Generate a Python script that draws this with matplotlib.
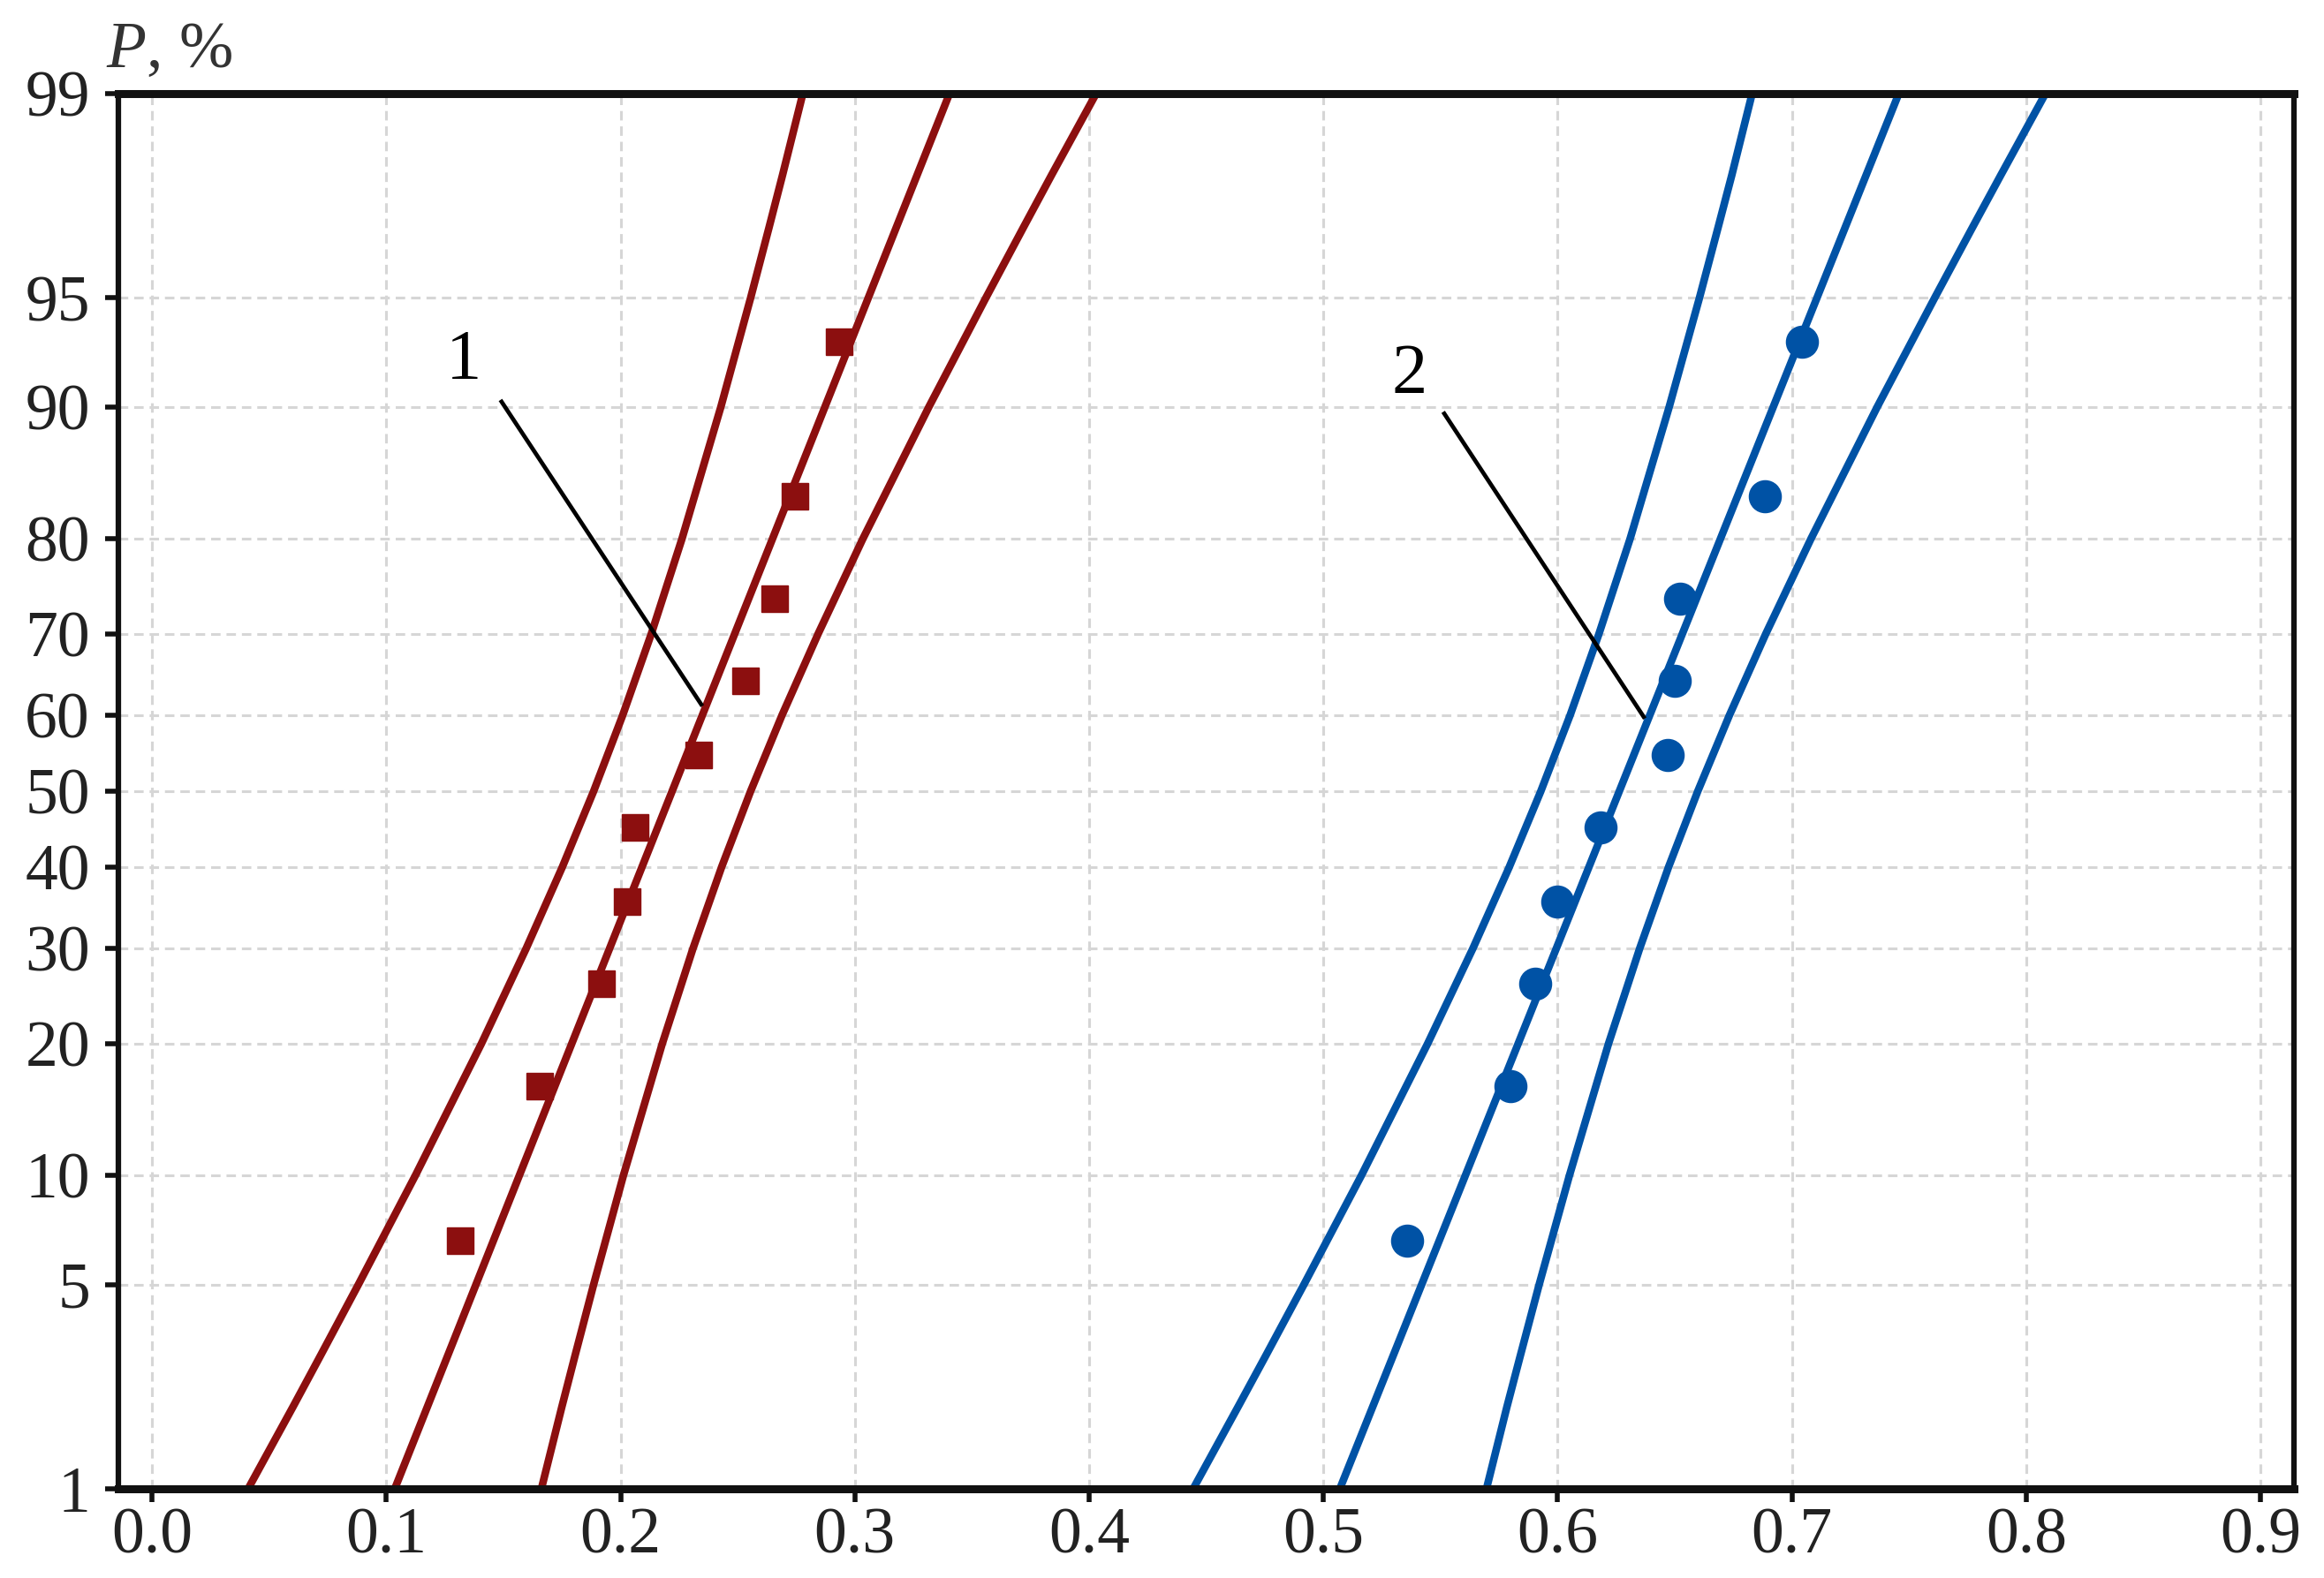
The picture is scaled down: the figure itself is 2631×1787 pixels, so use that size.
from statistics import NormalDist

import numpy as np
import matplotlib
matplotlib.use("Agg")
import matplotlib.pyplot as plt

plt.rcParams["font.family"] = ["Liberation Serif", "DejaVu Serif"]
plt.rcParams["mathtext.fontset"] = "custom"
plt.rcParams["mathtext.rm"] = "Liberation Serif"
plt.rcParams["mathtext.it"] = "Liberation Serif:italic"

levels = [1, 2, 3, 5, 10, 20, 30, 40, 50, 60, 70, 80, 90, 95, 97, 98, 99]

# plotting positions of the 10 measured points (%)
point_p = [6.7, 16.3, 26.0, 35.6, 45.2, 54.8, 64.4, 74.0, 83.7, 93.3]

# series 1 (red squares)
red_x = [0.1315, 0.1654, 0.1918, 0.2027, 0.2061, 0.2332, 0.2532, 0.2657, 0.2744, 0.2932]
red_fit_p = [1, 99]
red_fit_x = [0.1036, 0.3404]
red_low = [0.0410, 0.0601, 0.0720, 0.0881, 0.1124, 0.1406, 0.1597, 0.1751, 0.1885,
           0.2009, 0.2131, 0.2262, 0.2428, 0.2555, 0.2634, 0.2691, 0.2778]
red_high = [0.1662, 0.1749, 0.1806, 0.1885, 0.2012, 0.2178, 0.2309, 0.2431, 0.2555,
            0.2689, 0.2843, 0.3034, 0.3316, 0.3559, 0.3720, 0.3839, 0.4030]

# series 2 (blue circles)
blue_x = [0.5357, 0.5798, 0.5904, 0.5998, 0.6183, 0.6469, 0.6499, 0.6522, 0.6884, 0.7042]
blue_fit_p = [1, 99]
blue_fit_x = [0.5070, 0.7456]
blue_low = [0.4444, 0.4635, 0.4755, 0.4917, 0.5162, 0.5445, 0.5638, 0.5793, 0.5928,
            0.6053, 0.6176, 0.6309, 0.6476, 0.6605, 0.6685, 0.6743, 0.6830]
blue_high = [0.5696, 0.5783, 0.5841, 0.5921, 0.6050, 0.6217, 0.6350, 0.6473, 0.6598,
             0.6733, 0.6888, 0.7081, 0.7364, 0.7609, 0.7771, 0.7891, 0.8082]

x_ticks = [0.0, 0.1, 0.2, 0.3, 0.4, 0.5, 0.6, 0.7, 0.8, 0.9]
y_ticks = [1, 5, 10, 20, 30, 40, 50, 60, 70, 80, 90, 95, 99]

RED = "#8c0f0f"
BLUE = "#0052a5"

_normal = NormalDist()


def to_probit(p):
    p = np.clip(np.asarray(p, dtype=float), 1e-9, 100 - 1e-9)
    return np.vectorize(lambda v: _normal.inv_cdf(v / 100.0), otypes=[float])(p)


def from_probit(z):
    z = np.asarray(z, dtype=float)
    return np.vectorize(lambda v: 100.0 * _normal.cdf(v), otypes=[float])(z)


fig = plt.figure(figsize=(26.31, 17.87), dpi=100)
ax = fig.add_axes([0.0509, 0.0565, 0.9362, 0.8842])
ax.set_yscale("function", functions=(to_probit, from_probit))
ax.set_xlim(-0.0144, 0.9143)
ax.set_ylim(1, 99)

ax.set_xticks(x_ticks)
ax.set_xticklabels([f"{v:.1f}" for v in x_ticks])
ax.set_yticks(y_ticks)
ax.set_yticklabels([str(v) for v in y_ticks])
ax.minorticks_off()
ax.tick_params(axis="both", direction="out", length=11, width=4, labelsize=53,
               labelcolor="#222222", color="#111111")
ax.tick_params(axis="x", pad=4)
ax.tick_params(axis="y", pad=12)

ax.grid(True, color="#d6d6d6", linewidth=2.2, linestyle=(0, (3.5, 2.2)))
ax.set_axisbelow(True)

for side in ["top", "bottom"]:
    ax.spines[side].set_linewidth(6.5)
for side in ["left", "right"]:
    ax.spines[side].set_linewidth(4.5)
for spine in ax.spines.values():
    spine.set_color("#111111")
    spine.set_zorder(5)

line_width = 6.2

for xs in (red_low, red_high):
    ax.plot(xs, levels, color=RED, linewidth=line_width, solid_joinstyle="round")
ax.plot(red_fit_x, red_fit_p, color=RED, linewidth=line_width)
ax.plot(red_x, point_p, linestyle="none", marker="s", markersize=21, color=RED, zorder=4)

for xs in (blue_low, blue_high):
    ax.plot(xs, levels, color=BLUE, linewidth=line_width, solid_joinstyle="round")
ax.plot(blue_fit_x, blue_fit_p, color=BLUE, linewidth=line_width)
ax.plot(blue_x, point_p, linestyle="none", marker="o", markersize=26, color=BLUE, zorder=4)

# curve labels with leader lines
ax.plot([0.1492, 0.2344], [90.3, 61.4], color="black", linewidth=3.4, zorder=4)
ax.text(0.133, 92.4, "1", fontsize=58, ha="center", va="center", color="black")
ax.plot([0.5516, 0.6367], [89.6, 59.8], color="black", linewidth=3.4, zorder=4)
ax.text(0.5368, 91.7, "2", fontsize=58, ha="center", va="center", color="black")

fig.text(0.0456, 0.9575, "$P$, %", fontsize=53, color="#333333", ha="left", va="baseline")

fig.savefig("out.png", dpi=100)
